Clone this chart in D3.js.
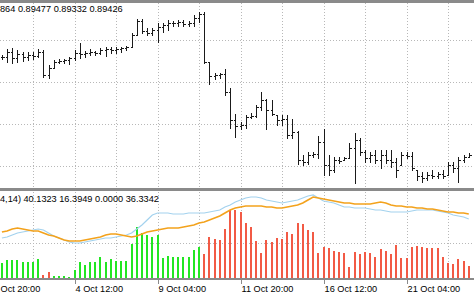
<!DOCTYPE html>
<html><head><meta charset="utf-8">
<script src="https://cdn.jsdelivr.net/npm/d3@7"></script>
<style>html,body{margin:0;padding:0;background:#fff;overflow:hidden}svg{display:block}</style>
</head><body>
<svg id="c" width="474" height="301"></svg>
<script>
// ---- data ----
const openP  = [0.89715,0.89715,0.89740,0.89710,0.89730,0.89715,0.89725,0.89720,0.89740,0.89625,0.89660,0.89690,0.89695,0.89700,0.89710,0.89735,0.89730,0.89735,0.89740,0.89735,0.89750,0.89755,0.89750,0.89755,0.89760,0.89765,0.89825,0.89895,0.89845,0.89835,0.89850,0.89865,0.89875,0.89885,0.89885,0.89890,0.89880,0.89885,0.89910,0.89930,0.89690,0.89620,0.89625,0.89630,0.89540,0.89400,0.89370,0.89375,0.89415,0.89420,0.89465,0.89500,0.89450,0.89425,0.89400,0.89405,0.89325,0.89340,0.89200,0.89190,0.89225,0.89230,0.89290,0.89175,0.89150,0.89200,0.89200,0.89210,0.89260,0.89300,0.89240,0.89210,0.89225,0.89200,0.89225,0.89200,0.89190,0.89175,0.89225,0.89220,0.89150,0.89120,0.89110,0.89125,0.89120,0.89130,0.89125,0.89175,0.89160,0.89200,0.89215];
const highP  = [0.89725,0.89755,0.89760,0.89750,0.89740,0.89740,0.89740,0.89755,0.89750,0.89675,0.89700,0.89705,0.89705,0.89715,0.89750,0.89785,0.89745,0.89755,0.89745,0.89760,0.89765,0.89765,0.89765,0.89765,0.89770,0.89835,0.89905,0.89905,0.89860,0.89860,0.89885,0.89885,0.89900,0.89895,0.89900,0.89900,0.89895,0.89925,0.89940,0.89940,0.89690,0.89635,0.89635,0.89655,0.89560,0.89430,0.89390,0.89425,0.89435,0.89475,0.89540,0.89505,0.89500,0.89425,0.89425,0.89425,0.89405,0.89345,0.89225,0.89240,0.89240,0.89320,0.89355,0.89225,0.89215,0.89215,0.89215,0.89285,0.89335,0.89310,0.89250,0.89240,0.89250,0.89250,0.89250,0.89250,0.89210,0.89240,0.89240,0.89240,0.89150,0.89140,0.89140,0.89150,0.89140,0.89150,0.89190,0.89190,0.89215,0.89225,0.89235];
const lowP   = [0.89705,0.89690,0.89685,0.89690,0.89695,0.89700,0.89705,0.89715,0.89615,0.89610,0.89660,0.89685,0.89685,0.89680,0.89700,0.89710,0.89715,0.89725,0.89725,0.89730,0.89720,0.89735,0.89735,0.89740,0.89750,0.89765,0.89825,0.89835,0.89825,0.89825,0.89790,0.89840,0.89850,0.89870,0.89870,0.89870,0.89870,0.89870,0.89890,0.89685,0.89580,0.89605,0.89610,0.89525,0.89360,0.89315,0.89355,0.89360,0.89410,0.89415,0.89450,0.89355,0.89425,0.89375,0.89375,0.89310,0.89310,0.89180,0.89175,0.89180,0.89215,0.89210,0.89125,0.89125,0.89140,0.89185,0.89200,0.89210,0.89085,0.89225,0.89190,0.89190,0.89185,0.89160,0.89185,0.89165,0.89115,0.89175,0.89210,0.89150,0.89100,0.89090,0.89100,0.89110,0.89110,0.89110,0.89125,0.89140,0.89090,0.89190,0.89215];
const closeP = [0.89715,0.89740,0.89710,0.89730,0.89715,0.89725,0.89720,0.89740,0.89625,0.89660,0.89690,0.89695,0.89700,0.89710,0.89735,0.89730,0.89735,0.89740,0.89735,0.89750,0.89755,0.89750,0.89755,0.89760,0.89765,0.89825,0.89895,0.89845,0.89835,0.89850,0.89865,0.89875,0.89885,0.89885,0.89890,0.89880,0.89885,0.89910,0.89930,0.89690,0.89620,0.89625,0.89630,0.89540,0.89400,0.89370,0.89375,0.89415,0.89420,0.89465,0.89500,0.89450,0.89430,0.89400,0.89405,0.89325,0.89340,0.89200,0.89190,0.89225,0.89230,0.89290,0.89175,0.89150,0.89200,0.89195,0.89210,0.89260,0.89300,0.89240,0.89210,0.89225,0.89200,0.89225,0.89200,0.89190,0.89150,0.89225,0.89220,0.89160,0.89120,0.89110,0.89125,0.89120,0.89130,0.89120,0.89175,0.89160,0.89200,0.89215,0.89225];

// histogram: positive = green, negative = red
const histValues = [7.5,9,9,9,8,8,8,9.5,-1.5,-3,1,1,1,0.5,4,8,6.5,8,8,10.5,8,9.5,8.5,8.5,8.5,17,25.5,22.5,21.5,20.5,21.5,10,11,10.5,10.5,10.5,10.5,14,15.5,-12,-20.5,-19.5,-19,-24.5,-34,-34,-33,-27.5,-25.5,-18.5,-12.5,-19,-18,-20,-19.5,-23,-22,-27.5,-27,-24,-23,-12.5,-15.5,-15,-13.5,-13,-12.5,-5.5,-13,-12,-13,-12.5,-10.5,-14.5,-13.5,-12,-16.5,-10,-10,-15.5,-16,-15.5,-15,-15,-15,-10.5,-7.5,-7,-9.5,-8.5,-6];
const orangeLine = [23,23.5,24.5,25,24.5,24,23.5,23.5,22.5,21.5,21,20,19,18.5,18.5,18.5,19,19.5,20,20.5,21.5,22,22,21.5,21,20.5,21,22,23,23.5,24,24.5,25,25,25,25.5,26,26.5,27.5,28,29,30,31,32.5,34,35,35.5,36,36,36,36,35.5,35.5,35,35,35.5,36,36.5,37.5,39,40.5,40,39.5,39,38.5,38,37.5,37.5,37,37,37,37,37.5,38,37.5,36.5,36,36,35.5,35.5,35,35,34.5,34.5,34,33.5,33,33,32.5,32.5,32];
const blueLine = [20,20.5,21.5,22.5,23,23.5,24,24.5,24,22.5,21,20,19,18,17.5,17.5,18,18.5,19,19.5,20,20,20.5,21,21.5,22.5,24.5,26.5,29,31.5,32.5,32.5,32.5,32,32,32,32.5,32.5,32.5,32.5,33,33.5,34,35.5,36.5,38,39,40,40.5,40.5,40,39,38.5,38,37.5,38,38.5,39,40,41,41.5,40,38.5,38,37.5,36.5,35.5,35.5,35,35,35,34.5,34,34,33.5,33,33,33,33,33.5,34,34,34,34,33.5,33,32.5,31.5,31,30.5,29.5];

const tickBars = [-2, 14, 30, 46, 62, 78];
const tickLabels = ["Oct 20:00", "4 Oct 12:00", "9 Oct 04:00", "11 Oct 20:00", "16 Oct 12:00", "21 Oct 04:00"];
const priceGrid = [0.8917, 0.8938, 0.8959, 0.8980];
const indGrid = [17.5];
const headerMain = "864 0.89477 0.89332 0.89426";
const headerInd = "4,14) 40.1323 16.3949 0.0000 36.3342";

// ---- layout ----
const W = 474, H = 301;
const svg = d3.select("#c");
const font = "'Liberation Sans', Arial, sans-serif";
const x = d3.scaleLinear().domain([0, 90]).range([1.9, 1.9 + 90 * 5.1875]);
const yP = d3.scaleLinear().domain([0.8906, 0.9000]).range([188, 0]);
const yI = d3.scaleLinear().domain([0, 44]).range([278, 190]);
const px = v => Math.round(v) + 0.5;

const gridColor = "#b8b8b8";
const g = svg.append("g").attr("shape-rendering", "crispEdges");

// vertical grid
const vGrid = d3.range(-2, 91, 8);
g.selectAll(".vg").data(vGrid).join("line")
  .attr("x1", d => px(x(d))).attr("x2", d => px(x(d)))
  .attr("y1", 3).attr("y2", 278)
  .attr("stroke", gridColor).attr("stroke-dasharray", "1,2");
g.selectAll(".hg").data(priceGrid).join("line")
  .attr("x1", 0).attr("x2", W)
  .attr("y1", d => px(yP(d))).attr("y2", d => px(yP(d)))
  .attr("stroke", gridColor).attr("stroke-dasharray", "1,2");
g.selectAll(".hgi").data(indGrid).join("line")
  .attr("x1", 0).attr("x2", W)
  .attr("y1", d => px(yI(d))).attr("y2", d => px(yI(d)))
  .attr("stroke", gridColor).attr("stroke-dasharray", "1,2");

// price OHLC bars
const bars = d3.range(openP.length);
const bg = svg.append("g").attr("shape-rendering", "crispEdges").attr("stroke", "#1a1a1a").attr("stroke-width", 1);
bars.forEach(i => {
  const cx = px(x(i));
  bg.append("line").attr("x1", cx).attr("x2", cx).attr("y1", Math.round(yP(highP[i]))).attr("y2", Math.round(yP(lowP[i])) + 1);
  bg.append("line").attr("x1", cx - 2).attr("x2", cx).attr("y1", px(yP(openP[i]))).attr("y2", px(yP(openP[i])));
  bg.append("line").attr("x1", cx).attr("x2", cx + 2).attr("y1", px(yP(closeP[i]))).attr("y2", px(yP(closeP[i])));
});

// histogram
svg.append("g").attr("shape-rendering", "crispEdges").selectAll("rect").data(histValues).join("rect")
  .attr("x", (d, i) => Math.round(x(i)) - 1)
  .attr("width", 2)
  .attr("y", d => yI(Math.abs(d)))
  .attr("height", d => yI(0) - yI(Math.abs(d)))
  .attr("fill", d => d >= 0 ? "#22e622" : "#f25a45");

// lines
const line = d3.line().x((d, i) => x(i)).y(d => yI(d)).curve(d3.curveLinear);
svg.append("path").datum(blueLine).attr("d", line).attr("fill", "none").attr("stroke", "#a3d2ee").attr("stroke-width", 1.2);
svg.append("path").datum(orangeLine).attr("d", line).attr("fill", "none").attr("stroke", "#f3a21c").attr("stroke-width", 1.6);

// panel separators
const sep = svg.append("g").attr("fill", "#8a8a8a").attr("shape-rendering", "crispEdges");
sep.append("rect").attr("x", 0).attr("y", 0).attr("width", W).attr("height", 3);
sep.append("rect").attr("x", 0).attr("y", 188).attr("width", W).attr("height", 3);
sep.append("rect").attr("x", 0).attr("y", 278).attr("width", W).attr("height", 2);

// x-axis ticks + labels
const xa = svg.append("g");
xa.selectAll("line").data(tickBars).join("line")
  .attr("x1", d => px(x(d))).attr("x2", d => px(x(d)))
  .attr("y1", 280).attr("y2", 284).attr("stroke", "#8a8a8a").attr("shape-rendering", "crispEdges");
xa.selectAll("text").data(tickBars).join("text")
  .attr("x", (d, i) => i === 0 ? 0.5 : x(d) + 1).attr("y", 291.5)
  .attr("font-family", font).attr("font-size", 9.2).attr("fill", "#000")
  .text((d, i) => tickLabels[i]);

// headers
svg.append("text").attr("x", 0).attr("y", 11.5)
  .attr("font-family", font).attr("font-size", 9.2).attr("fill", "#000").text(headerMain);
svg.append("text").attr("x", 0).attr("y", 202)
  .attr("font-family", font).attr("font-size", 9.2).attr("fill", "#000").text(headerInd);
</script>
</body></html>
